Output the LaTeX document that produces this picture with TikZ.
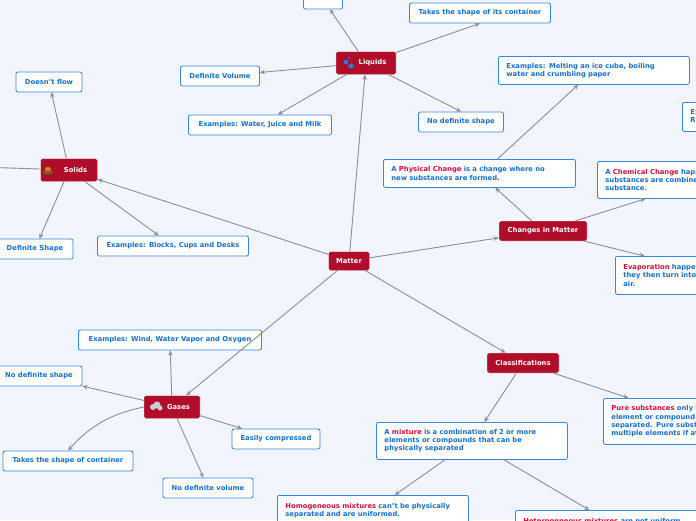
\documentclass[tikz,border=0pt]{standalone}
\usepackage{fontspec}
\setmainfont{DejaVu Sans}
\usetikzlibrary{arrows.meta}
\definecolor{bg}{HTML}{F2F5FD}
\definecolor{mred}{HTML}{B00D2A}
\definecolor{lblue}{HTML}{3A86D8}
\definecolor{tblue}{HTML}{1A6FCC}
\definecolor{tred}{HTML}{D0103A}
\definecolor{edge}{HTML}{8A8E96}
\newcommand{\R}[1]{\textcolor{tred}{#1}}
\tikzset{
  main/.style={fill=mred,draw=white,line width=0.4pt,rounded corners=1.5pt,text=white,font=\fontsize{6.8}{8}\selectfont\bfseries,minimum height=20pt,inner xsep=4pt},
  leaf/.style={fill=white,draw=lblue,line width=0.8pt,rounded corners=2pt,text=tblue,font=\fontsize{6.8}{8.2}\selectfont\bfseries,minimum height=20pt,inner xsep=4pt,align=left},
  mleaf/.style={leaf,inner xsep=8pt,inner ysep=4pt},
  con/.style={draw=edge,line width=0.9pt,-{Stealth[length=5pt,width=4.5pt]}},
}
\begin{document}
\begin{tikzpicture}[x=1pt,y=-1pt]
\useasboundingbox (0,0) rectangle (696,520);
\clip (0,0) rectangle (696,520);
\fill[bg] (0,0) rectangle (696,520);
% main nodes
\node[main,minimum width=41pt,minimum height=19pt] (matter) at (349,261) {Matter};
\node[main,minimum width=60pt,minimum height=23pt] (liquids) at (366,63) {\hspace*{13pt}Liquids};
\node[main,minimum width=57pt,minimum height=23pt] (solids) at (69,170) {\hspace*{13pt}Solids};
\node[main,minimum width=56pt,minimum height=23pt] (gases) at (172,407) {\hspace*{13pt}Gases};
\node[main,minimum width=88pt] (changes) at (543,231) {Changes in Matter};
\node[main,minimum width=72pt] (class) at (523,363) {Classifications};
% icons
\fill[cyan!70!blue] (346,62) circle (2.3pt) (351,66) circle (2.6pt) (349,58) circle (1.2pt);
\fill[brown!70!black] (48,172) ellipse (5pt and 2.5pt);\fill[brown!50!orange] (48,169) ellipse (3pt and 2pt);
\fill[gray!40] (153,407) circle (3pt) (157,405) circle (3.5pt) (160,408) circle (2.5pt);
% liquid leaves
\node[leaf,minimum width=39pt] (ltop) at (323,-1) {};
\node[leaf,minimum width=141pt] (lshape) at (480,13) {Takes the shape of its container};
\node[leaf,minimum width=79pt] (lvol) at (220,76) {Definite Volume};
\node[leaf,minimum width=143pt] (lex) at (260,125) {Examples: Water, Juice and Milk};
\node[leaf,minimum width=85pt] (lnds) at (461,122) {No definite shape};
% solids leaves
\coordinate (soff) at (-20,167);
\node[leaf,minimum width=66pt] (sflow) at (49,82) {Doesn't flow};
\node[leaf,minimum width=76pt] (sds) at (35,249) {Definite Shape};
\node[leaf,minimum width=151pt] (sex) at (173,246) {Examples: Blocks, Cups and Desks};
% gases leaves
\node[leaf,minimum width=183pt] (gex) at (170,340) {Examples: Wind, Water Vapor and Oxygen};
\node[leaf,minimum width=86pt] (gnds) at (39,376) {No definite shape};
\node[leaf,minimum width=130pt] (gshape) at (68,461) {Takes the shape of container};
\node[leaf,minimum width=88pt] (gcomp) at (276,439) {Easily compressed};
\node[leaf,minimum width=90pt] (gvol) at (208,488) {No definite volume};
% changes leaves
\node[mleaf,anchor=north west,text width=175pt,minimum height=28pt] (cex) at (498,56) {Examples: Melting an ice cube, boiling\\water and crumbling paper};
\node[mleaf,anchor=north west,text width=175pt,minimum height=29pt] (cfar) at (682,102) {Examples: Burning wood,\\Rusting metal};
\node[mleaf,anchor=north west,text width=176pt,minimum height=28pt] (cphys) at (383,159) {A \R{Physical Change} is a change where no\\new substances are formed.};
\node[mleaf,anchor=north west,text width=200pt,minimum height=37pt] (cchem) at (597,161) {A \R{Chemical Change} happens when two or more\\substances are combined to make a new\\substance.};
\node[mleaf,anchor=north west,text width=200pt,minimum height=38pt] (cevap) at (615,256) {\R{Evaporation} happens when liquids are heated,\\they then turn into water vapor in the\\air.};
% classification leaves
\node[mleaf,anchor=north west,text width=175pt,minimum height=37pt] (mix) at (376,422) {A \R{mixture} is a combination of 2 or more\\elements or compounds that can be\\physically separated};
\node[mleaf,anchor=north west,text width=175pt,minimum height=46pt] (pure) at (603,398) {\R{Pure substances} only have one\\element or compound and can't be\\separated. Pure substances can have\\multiple elements if attached.};
\node[mleaf,anchor=north west,text width=175pt,minimum height=30pt] (homo) at (277,495) {\R{Homogeneous mixtures} can't be physically\\separated and are uniformed.};
\node[mleaf,anchor=north west,text width=184pt,minimum height=30pt] (hetero) at (515,510) {\R{Heterogeneous mixtures} are not uniform\\and can be separated.};
% connectors
\draw[con] (matter) -- (liquids);
\draw[con] (matter) -- (solids);
\draw[con] (matter) -- (gases);
\draw[con] (matter) -- (changes);
\draw[con] (matter) -- (class);
\draw[con] (liquids) -- (ltop);
\draw[con] (liquids) -- (lshape.south);
\draw[con] (liquids) -- (lvol);
\draw[con] (liquids) -- (lex);
\draw[con] (liquids) -- (lnds.north);
\draw[draw=edge,line width=0.9pt] (soff) -- (solids);
\draw[con] (solids) -- (sflow);
\draw[con] (solids) -- (sds);
\draw[con] (solids) -- (sex);
\draw[con] (gases) -- (gex);
\draw[con] (gases) -- (gnds);
\draw[con] (gases.west) to[bend right=18] (gshape.north);
\draw[con] (gases) -- (gcomp);
\draw[con] (gases) -- (gvol);
\draw[con] (cphys.north) ++(18,0) coordinate (pp) -- (cex);
\draw[con] (changes) -- (cphys);
\draw[con] (changes) -- (cchem);
\draw[con] (changes) -- (cevap);
\draw[con] (class) -- (mix);
\draw[con] (class) -- (pure);
\draw[con] (mix) -- (homo);
\draw[con] (mix) -- (hetero);
\end{tikzpicture}
\end{document}
